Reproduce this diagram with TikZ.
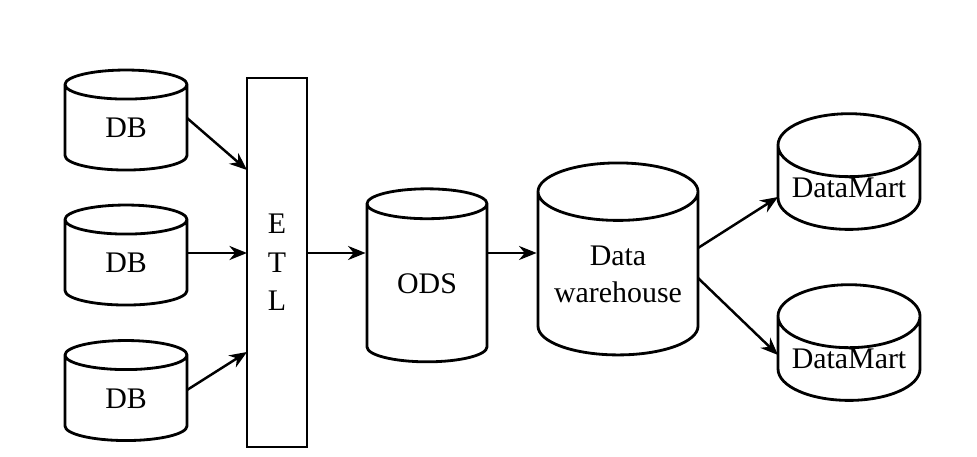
\documentclass[tikz,border=0pt]{standalone}
\usepackage{fontspec}
\setmainfont{Liberation Serif}
\usetikzlibrary{shapes.geometric,arrows.meta}

\begin{document}
\begin{tikzpicture}[
	store/.style={draw,line width=0.8pt,cylinder,shape border rotate=90,aspect=0.7,
		minimum width=1.22cm,minimum height=1cm,inner sep=0pt,fill=white,
		font=\fontsize{8.5}{10.5}\selectfont,align=center},
	flow/.style={-{Stealth[length=5pt,width=4pt]},line width=0.7pt}
	]
	\useasboundingbox (0,0) rectangle (9.77,-4.57);
	
	\foreach \y/\n in {1.28/1,2.63/2,3.985/3}
		\node (db\n) [store] at (1.26,-\y) {DB};
	
	\node (etl) [draw,line width=0.8pt,minimum width=0.6cm,minimum height=3.69cm,inner sep=0pt,
		font=\fontsize{8.5}{11}\selectfont,align=center] at (2.77,-2.625) {E\\T\\L};
	
	\node (ods) [store,minimum width=1.2cm,minimum height=1.73cm,aspect=0.5] at (4.27,-2.835) {ODS};
	\node (dw) [store,minimum width=1.6cm,minimum height=1.92cm,aspect=0.45] at (6.18,-2.74) {Data\\warehouse};
	
	\node (dm1) [store,minimum width=1.42cm,minimum height=1cm,aspect=0.55] at (8.49,-1.88) {DataMart};
	\node (dm2) [store,minimum width=1.42cm,minimum height=0.98cm,aspect=0.55] at (8.49,-3.59) {DataMart};
	
	\coordinate (e1) at (2.47,-1.70);
	\coordinate (e2) at (2.47,-2.53);
	\coordinate (e3) at (2.47,-3.52);
	\draw [flow] (1.87,-1.18) -- (e1);
	\draw [flow] (db2.east |- e2) -- (e2);
	\draw [flow] (1.87,-3.90) -- (e3);
	\draw [flow] (etl.east |- e2) -- (ods.west |- e2);
	\draw [flow] (ods.east |- e2) -- (dw.west |- e2);
	\draw [flow] (6.98,-2.48) -- (7.78,-1.97);
	\draw [flow] (6.98,-2.78) -- (7.78,-3.55);
\end{tikzpicture}
\end{document}
